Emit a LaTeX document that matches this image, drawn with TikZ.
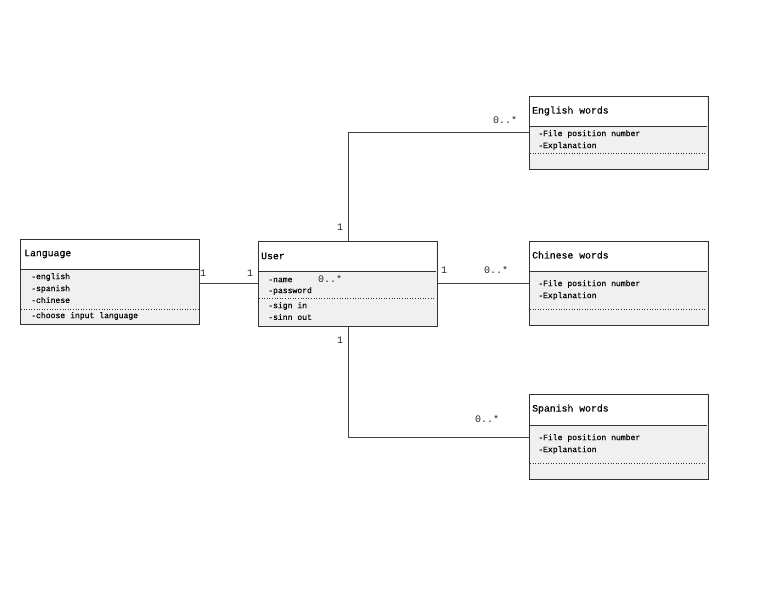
\documentclass[tikz,border=0pt]{standalone}
\usepackage{fontspec}
\setmainfont[FakeBold=0.3]{Liberation Mono}
\newfontfamily\multfont{Liberation Mono}
\begin{document}
\begin{tikzpicture}[x=1pt,y=-1pt,
  box/.style={draw=black!80,line width=0.8pt,fill=black!6,rectangle,anchor=north west,inner sep=0pt,minimum width=179pt},
  hdr/.style={anchor=west,inner sep=0pt,font=\fontsize{9.8}{10}\selectfont},
  attr/.style={anchor=west,inner sep=0pt,font=\fontsize{8.1}{9}\selectfont},
  mult/.style={inner sep=0pt,font=\multfont\fontsize{10}{11}\selectfont,text=black!85},
  conn/.style={draw=black!75,line width=0.8pt},
  sep/.style={draw=black!80,line width=0.6pt,dotted}]
\useasboundingbox (0,0) rectangle (768,593);
\fill[white] (0,0) rectangle (768,593);

% Language
\node[box,minimum height=85pt] (lang) at (20,239) {};
\fill[white] (20,239) rectangle (199,269);
\draw[draw=black!80,line width=0.8pt] (lang.north west) rectangle (lang.south east);
\draw[draw=black!80,line width=0.8pt] (20,269) -- (199,269);
\node[hdr] (langT) at (24,254) {Language};
\node[attr] (la1) at (31,277) {-english};
\node[attr] (la2) at (31,289) {-spanish};
\node[attr] (la3) at (31,300) {-chinese};
\draw[sep] (21,309) -- (198,309);
\node[attr] (lo1) at (31,316) {-choose input language};

% User
\node[box,minimum height=85pt] (user) at (258,241) {};
\fill[white] (258,241) rectangle (436,271);
\draw[draw=black!80,line width=0.8pt] (user.north west) rectangle (user.south east);
\draw[draw=black!80,line width=0.8pt] (258,271) -- (436,271);
\node[hdr] (userT) at (261,256) {User};
\node[attr] (ua1) at (268,280) {-name};
\node[attr] (ua2) at (268,291) {-password};
\draw[sep] (259,298) -- (435,298);
\node[attr] (uo1) at (268,306) {-sign in};
\node[attr] (uo2) at (268,317) {-sinn out};

% English words
\node[box,minimum height=73pt] (eng) at (529,96) {};
\fill[white] (529,96) rectangle (707,126);
\draw[draw=black!80,line width=0.8pt] (eng.north west) rectangle (eng.south east);
\draw[draw=black!80,line width=0.8pt] (529,126) -- (707,126);
\node[hdr] (engT) at (532,111) {English words};
\node[attr] (ea1) at (538,134) {-File position number};
\node[attr] (ea2) at (538,146) {-Explanation};
\draw[sep] (530,153) -- (706,153);

% Chinese words
\node[box,minimum height=84pt] (chi) at (529,241) {};
\fill[white] (529,241) rectangle (707,271);
\draw[draw=black!80,line width=0.8pt] (chi.north west) rectangle (chi.south east);
\draw[draw=black!80,line width=0.8pt] (529,271) -- (707,271);
\node[hdr] (chiT) at (532,255) {Chinese words};
\node[attr] (ca1) at (538,284) {-File position number};
\node[attr] (ca2) at (538,296) {-Explanation};
\draw[sep] (530,309) -- (706,309);

% Spanish words
\node[box,minimum height=85pt] (spa) at (529,394) {};
\fill[white] (529,394) rectangle (707,425);
\draw[draw=black!80,line width=0.8pt] (spa.north west) rectangle (spa.south east);
\draw[draw=black!80,line width=0.8pt] (529,425) -- (707,425);
\node[hdr] (spaT) at (532,409) {Spanish words};
\node[attr] (sa1) at (538,438) {-File position number};
\node[attr] (sa2) at (538,450) {-Explanation};
\draw[sep] (530,463) -- (706,463);

% connectors
\draw[conn] (user.west) -- (user.west -| lang.east);
\draw[conn] (user.north) -- (user.north |- eng.west) -- (eng.west);
\draw[conn] (user.east) -- (user.east -| chi.west);
\draw[conn] (user.south) -- (user.south |- spa.west) -- (spa.west);

% multiplicities
\node[mult] (m1) at (203,273) {1};
\node[mult] (m2) at (250,273) {1};
\node[mult] (m3) at (340,227) {1};
\node[mult] (m4) at (505,120) {0..*};
\node[mult] (m5) at (444,270) {1};
\node[mult] (m6) at (496,270) {0..*};
\node[mult] (m7) at (340,340) {1};
\node[mult] (m8) at (487,419) {0..*};
\node[mult] (m9) at (330,279) {0..*};
\end{tikzpicture}
\end{document}
